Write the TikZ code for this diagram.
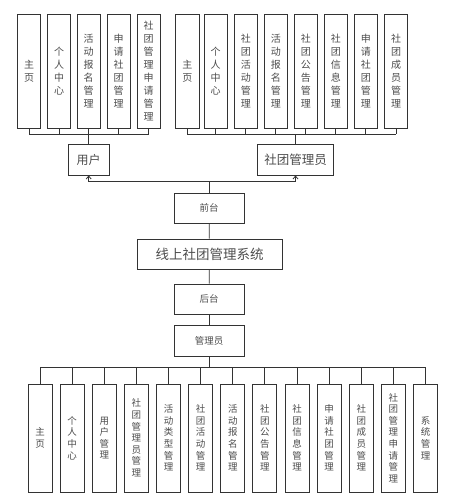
\documentclass[tikz,border=0pt]{standalone}
\usepackage{fontspec}
\setmainfont{Noto Sans CJK SC}
\usetikzlibrary{arrows.meta}
\begin{document}
\begin{tikzpicture}[x=1pt,y=-1pt,line width=.8pt,
	box/.style={draw=black!80,inner sep=0pt,align=center,text=black!70},
	topbox/.style={box,minimum width=23.5pt,minimum height=114pt,font=\fontsize{10}{13}\selectfont},
	botbox/.style={box,minimum width=24pt,minimum height=108pt,font=\fontsize{9.5}{11.6}\selectfont},
	arr/.style={draw=black!80,-{Straight Barb[length=3pt,width=5pt]}}]
	\useasboundingbox (0,0) rectangle (474,501);
	% user side
	\foreach \x/\t [count=\i] in {29/{主\\页},59/{个\\人\\中\\心},88.7/{活\\动\\报\\名\\管\\理},118.7/{申\\请\\社\\团\\管\\理},148.7/{社\\团\\管\\理\\申\\请\\管\\理}}
		\node[topbox] (u\i) at (\x,71) {\t};
	\node[box,minimum width=41pt,minimum height=31pt,font=\fontsize{12}{14}\selectfont] (user) at (88.7,159.5) {用户};
	\coordinate (ubus) at (0,134);
	\foreach \i in {1,...,5}
		\draw[black!80] (u\i.south) -- (u\i.south |- ubus);
	\draw[black!80] (u1.south |- ubus) -- (u5.south |- ubus);
	\draw[black!80] (user.north) -- (user.north |- ubus);
	% club admin side
	\foreach \x/\t [count=\i] in {187.3/{主\\页},215.7/{个\\人\\中\\心},245.8/{社\\团\\活\\动\\管\\理},275.8/{活\\动\\报\\名\\管\\理},305.8/{社\\团\\公\\告\\管\\理},335.8/{社\\团\\信\\息\\管\\理},365.8/{申\\请\\社\\团\\管\\理},396/{社\\团\\成\\员\\管\\理}}
		\node[topbox] (c\i) at (\x,71) {\t};
	\node[box,minimum width=76pt,minimum height=31pt,font=\fontsize{12.5}{14}\selectfont] (cadmin) at (295.5,159.5) {社团管理员};
	\foreach \i in {1,...,8}
		\draw[black!80] (c\i.south) -- (c\i.south |- ubus);
	\draw[black!80] (c1.south |- ubus) -- (c8.south |- ubus);
	\draw[black!80] (cadmin.north) -- (cadmin.north |- ubus);
	% centre column
	\node[box,minimum width=70pt,minimum height=30pt,font=\fontsize{9.5}{11}\selectfont] (front) at (209,208) {前台};
	\node[box,minimum width=145pt,minimum height=30pt,font=\fontsize{13.5}{15}\selectfont] (sys) at (209.5,254) {线上社团管理系统};
	\node[box,minimum width=70pt,minimum height=30pt,font=\fontsize{9.5}{11}\selectfont] (back) at (209,299) {后台};
	\node[box,minimum width=70pt,minimum height=31pt,font=\fontsize{9.5}{11}\selectfont] (admin) at (209,340.5) {管理员};
	\coordinate (split) at (0,181);
	\draw[arr] (front.north) -- (front.north |- split) -| (user.south);
	\draw[arr] (front.north |- split) -| (cadmin.south);
	\draw[black!80] (front) -- (sys);
	\draw[black!80] (sys) -- (back);
	\draw[black!80] (back) -- (admin);
	% admin side
	\foreach \t [count=\i] in {{主\\页},{个\\人\\中\\心},{用\\户\\管\\理},{社\\团\\管\\理\\员\\管\\理},{活\\动\\类\\型\\管\\理},{社\\团\\活\\动\\管\\理},{活\\动\\报\\名\\管\\理},{社\\团\\公\\告\\管\\理},{社\\团\\信\\息\\管\\理},{申\\请\\社\\团\\管\\理},{社\\团\\成\\员\\管\\理},{社\\团\\管\\理\\申\\请\\管\\理},{系\\统\\管\\理}}
		\node[botbox] (a\i) at ({40+32.125*(\i-1)},438) {\t};
	\coordinate (abus) at (0,367);
	\foreach \i in {1,...,13}
		\draw[black!80] (a\i.north) -- (a\i.north |- abus);
	\draw[black!80] (a1.north |- abus) -- (a13.north |- abus);
	\draw[black!80] (admin.south) -- (admin.south |- abus);
\end{tikzpicture}
\end{document}
